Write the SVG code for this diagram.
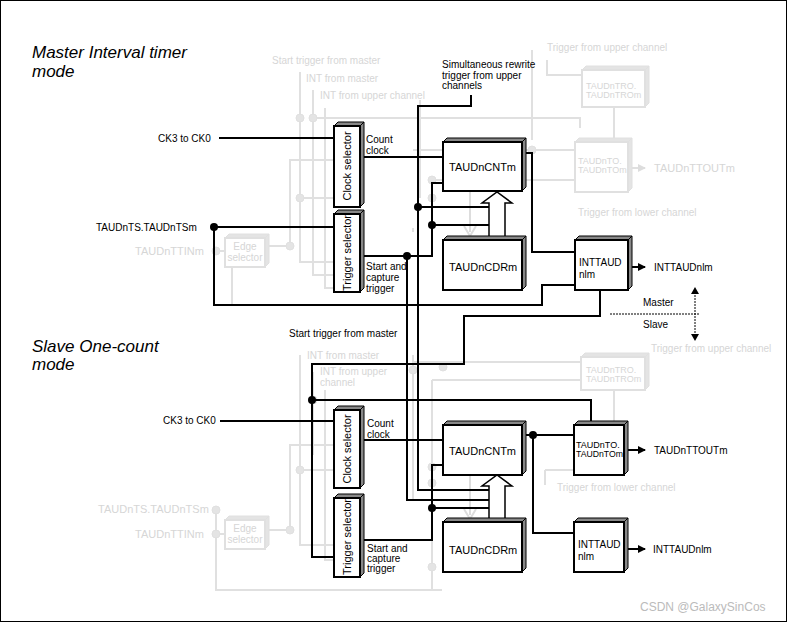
<svg xmlns="http://www.w3.org/2000/svg" width="787" height="622" viewBox="0 0 787 622">
<style>
text{font-family:"Liberation Sans",Arial,sans-serif;font-size:10px;fill:#000}
.t{font-size:17px;font-style:italic}
.g{fill:#d6d6d6}
.b{font-size:11px}
.s{font-size:9px}
.k{fill:none;stroke:#000;stroke-width:2}
.gl{fill:none;stroke:#e0e0e0;stroke-width:2}
.bx{fill:#fff;stroke:#000;stroke-width:2}
.gbx{fill:#fff;stroke:#e0e0e0;stroke-width:2}
.sd{fill:#888;stroke:#000;stroke-width:1}
.gsd{fill:#e4e4e4;stroke:#e0e0e0;stroke-width:1}
</style>
<defs>
<marker id="ar" markerWidth="8" markerHeight="8" refX="7" refY="4" orient="auto" markerUnits="userSpaceOnUse"><path d="M0,0L8,4L0,8z" fill="#000"/></marker>
<marker id="gar" markerWidth="8" markerHeight="8" refX="7" refY="4" orient="auto" markerUnits="userSpaceOnUse"><path d="M0,0L8,4L0,8z" fill="#ddd"/></marker>
</defs>
<rect x="0.5" y="0.5" width="786" height="621" fill="#fff" stroke="#000"/>
<text class="t" x="32" y="58">Master Interval timer</text>
<text class="t" x="32" y="77">mode</text>
<text class="t" x="32" y="352">Slave One-count</text>
<text class="t" x="32" y="370">mode</text>

<g id="grey">
<g class="gl">
<path d="M300,72V262H334M313,90V275H334M325,108V288H334M313,118H580V128M300,198H334"/>
<path d="M420,100V198M413,150H575M432,180H575M532,50V140M413,228V232M265,246H290V160H334"/>
<path d="M547,60V75H582M614,107V140M628,168H645" marker-end="url(#gar)"/>
<path d="M216,251H225M232,266V305"/>
<path d="M300,355V545H334M313,372V455M325,390V560H334M300,470H334M413,362H582M432,380H582M413,355V500M432,380V590M614,390V425M545,470H574M545,470V485M265,530H290V445H334M216,510V590H432M216,534H225M442,590H432"/>
</g>
<g class="gsd"><circle cx="300" cy="118" r="4"/><circle cx="313" cy="118" r="4"/><circle cx="300" cy="198" r="4"/><circle cx="290" cy="246" r="4"/><circle cx="216" cy="251" r="4"/><circle cx="432" cy="180" r="4"/><circle cx="532" cy="150" r="4"/><circle cx="432" cy="198" r="4"/><circle cx="313" cy="400" r="4"/><circle cx="300" cy="470" r="4"/><circle cx="290" cy="530" r="4"/><circle cx="216" cy="510" r="4"/><circle cx="216" cy="534" r="4"/><circle cx="413" cy="370" r="4"/><circle cx="432" cy="467" r="4"/><circle cx="432" cy="567" r="4"/><circle cx="443" cy="367" r="4"/><circle cx="432" cy="483" r="4"/></g>
<g id="gTRO1"><polygon class="gsd" points="582,70 586,66 649,66 645,70"/><polygon class="gsd" points="645,70 649,66 649,103 645,107"/><rect class="gbx" x="582" y="70" width="63" height="37"/><text class="g s" x="586" y="89">TAUDnTRO.</text><text class="g s" x="586" y="98">TAUDnTROm</text></g>
<g id="gTO1"><polygon class="gsd" points="575,142 579,138 632,138 628,142"/><polygon class="gsd" points="628,142 632,138 632,188 628,192"/><rect class="gbx" x="575" y="142" width="53" height="50"/><text class="g s" x="578" y="164">TAUDnTO.</text><text class="g s" x="578" y="173">TAUDnTOm</text></g>
<g id="gTRO2"><polygon class="gsd" points="581,357 585,353 649,353 645,357"/><polygon class="gsd" points="645,357 649,353 649,386 645,390"/><rect class="gbx" x="581" y="357" width="64" height="33"/><text class="g s" x="586" y="373">TAUDnTRO.</text><text class="g s" x="586" y="382">TAUDnTROm</text></g>
<g id="gE1"><polygon class="gsd" points="225,238 229,234 269,234 265,238"/><polygon class="gsd" points="265,238 269,234 269,263 265,267"/><rect class="gbx" x="225" y="238" width="40" height="29"/><text class="g" x="245" y="250" text-anchor="middle">Edge</text><text class="g" x="245" y="261" text-anchor="middle">selector</text></g>
<g id="gE2"><polygon class="gsd" points="225,520 229,516 269,516 265,520"/><polygon class="gsd" points="265,520 269,516 269,545 265,549"/><rect class="gbx" x="225" y="520" width="40" height="29"/><text class="g" x="245" y="532" text-anchor="middle">Edge</text><text class="g" x="245" y="543" text-anchor="middle">selector</text></g>
<text class="g" x="272" y="64">Start trigger from master</text>
<text class="g" x="306" y="82">INT from master</text>
<text class="g" x="320" y="99">INT from upper channel</text>
<text class="g" x="547" y="51">Trigger from upper channel</text>
<text class="g b" x="654" y="172">TAUDnTTOUTm</text>
<text class="g" x="578" y="216">Trigger from lower channel</text>
<text class="g b" x="135" y="255">TAUDnTTINm</text>
<text class="g" x="307" y="359">INT from master</text>
<text class="g" x="320" y="375">INT from upper</text>
<text class="g" x="320" y="386">channel</text>
<text class="g" x="651" y="352">Trigger from upper channel</text>
<text class="g" x="557" y="491">Trigger from lower channel</text>
<text class="g b" x="98" y="513">TAUDnTS.TAUDnTSm</text>
<text class="g b" x="135" y="538">TAUDnTTINm</text>
<path d="M470,192V232M464,226L470,236L476,226M470,475V515M464,509L470,519L476,509" fill="none" stroke="#ddd" stroke-width="2"/>
<text x="640" y="611" style="fill:#bbb;font-size:12px">CSDN @GalaxySinCos</text>
</g>

<g id="connectors">
<g class="k">
<path d="M219,138H334M214,227H334M214,227V305H542V285H575M360,157H443M522,153H532V252H575M471,95V106H418V490H497M418,207H497M432,225H497M443,183H432V256H360M407,256V500H497M628,267H645" marker-end="url(#ar)"/>
<path d="M600,290V316H464V364H312V557H334M312,400H591V425"/>
<path d="M220,421H334M360,440H443M522,435H574M533,435V533H574M443,465H432V540H360M432,508H497"/>
<path d="M624,450H645" marker-end="url(#ar)"/>
<path d="M624,549H645" marker-end="url(#ar)"/>
</g>
<g fill="#000"><circle cx="214" cy="227" r="4"/><circle cx="418" cy="207" r="4"/><circle cx="432" cy="225" r="4"/><circle cx="407" cy="256" r="4"/><circle cx="312" cy="400" r="4"/><circle cx="533" cy="435" r="4"/><circle cx="432" cy="508" r="4"/></g>
<path d="M489,238V203H482L497,192L512,203H505V238M489,520V486H482L497,475L512,486H505V520" fill="#fff" stroke="#000" stroke-width="1.5"/>
<path d="M610,314H700" stroke="#000" stroke-dasharray="2,1" stroke-width="1"/>
<path d="M695,292V336" stroke="#000" stroke-dasharray="2,1"/>
<path d="M691,294L695,287L699,294zM691,334L695,341L699,334z" fill="#000"/>
</g>

<g id="n-clk1"><polygon class="sd" points="334,126 338,122 364,122 360,126"/><polygon class="sd" points="360,126 364,122 364,203 360,207"/><rect class="bx" x="334" y="126" width="26" height="81"/><text transform="translate(351,166) rotate(-90)" text-anchor="middle" class="b">Clock selector</text></g>
<g id="n-trg1"><polygon class="sd" points="334,214 338,210 364,210 360,214"/><polygon class="sd" points="360,214 364,210 364,288 360,292"/><rect class="bx" x="334" y="214" width="26" height="78"/><text transform="translate(351,253) rotate(-90)" text-anchor="middle" class="b">Trigger selector</text></g>
<g id="n-cnt1"><polygon class="sd" points="443,142 447,138 526,138 522,142"/><polygon class="sd" points="522,142 526,138 526,187 522,191"/><rect class="bx" x="443" y="142" width="79" height="49"/><text class="b" x="449" y="171">TAUDnCNTm</text></g>
<g id="n-cdr1"><polygon class="sd" points="443,240 447,236 526,236 522,240"/><polygon class="sd" points="522,240 526,236 526,286 522,290"/><rect class="bx" x="443" y="240" width="79" height="50"/><text class="b" x="449" y="271">TAUDnCDRm</text></g>
<g id="n-int1"><polygon class="sd" points="575,240 579,236 632,236 628,240"/><polygon class="sd" points="628,240 632,236 632,286 628,290"/><rect class="bx" x="575" y="240" width="53" height="50"/><text x="579" y="266">INTTAUD</text><text x="579" y="278">nlm</text></g>
<g id="n-clk2"><polygon class="sd" points="334,410 338,406 364,406 360,410"/><polygon class="sd" points="360,410 364,406 364,484 360,488"/><rect class="bx" x="334" y="410" width="26" height="78"/><text transform="translate(351,449) rotate(-90)" text-anchor="middle" class="b">Clock selector</text></g>
<g id="n-trg2"><polygon class="sd" points="334,498 338,494 364,494 360,498"/><polygon class="sd" points="360,498 364,494 364,573 360,577"/><rect class="bx" x="334" y="498" width="26" height="79"/><text transform="translate(351,537) rotate(-90)" text-anchor="middle" class="b">Trigger selector</text></g>
<g id="n-cnt2"><polygon class="sd" points="443,425 447,421 526,421 522,425"/><polygon class="sd" points="522,425 526,421 526,471 522,475"/><rect class="bx" x="443" y="425" width="79" height="50"/><text class="b" x="449" y="455">TAUDnCNTm</text></g>
<g id="n-cdr2"><polygon class="sd" points="443,522 447,518 526,518 522,522"/><polygon class="sd" points="522,522 526,518 526,568 522,572"/><rect class="bx" x="443" y="522" width="79" height="50"/><text class="b" x="449" y="554">TAUDnCDRm</text></g>
<g id="n-to2"><polygon class="sd" points="574,425 578,421 628,421 624,425"/><polygon class="sd" points="624,425 628,421 628,471 624,475"/><rect class="bx" x="574" y="425" width="50" height="50"/><text class="s" x="576" y="448">TAUDnTO.</text><text class="s" x="576" y="457" textLength="47" lengthAdjust="spacingAndGlyphs">TAUDnTOm</text></g>
<g id="n-int2"><polygon class="sd" points="574,522 578,518 628,518 624,522"/><polygon class="sd" points="624,522 628,518 628,568 624,572"/><rect class="bx" x="574" y="522" width="50" height="50"/><text x="578" y="548">INTTAUD</text><text x="578" y="560">nlm</text></g>

<g id="labels">
<text x="158" y="142">CK3 to CK0</text>
<text x="96" y="231">TAUDnTS.TAUDnTSm</text>
<text x="366" y="143">Count</text><text x="366" y="154">clock</text>
<text x="366" y="270">Start and</text><text x="366" y="281">capture</text><text x="366" y="292">trigger</text>
<text x="442" y="68">Simultaneous rewrite</text><text x="442" y="79">trigger from upper</text><text x="442" y="89">channels</text>
<text x="654" y="271">INTTAUDnlm</text>
<text x="643" y="306">Master</text><text x="643" y="328">Slave</text>
<text x="289" y="337">Start trigger from master</text>
<text x="163" y="424">CK3 to CK0</text>
<text x="367" y="427">Count</text><text x="367" y="438">clock</text>
<text x="367" y="552">Start and</text><text x="367" y="562">capture</text><text x="367" y="572">trigger</text>
<text x="654" y="454">TAUDnTTOUTm</text>
<text x="653" y="553">INTTAUDnlm</text>
</g>
</svg>
